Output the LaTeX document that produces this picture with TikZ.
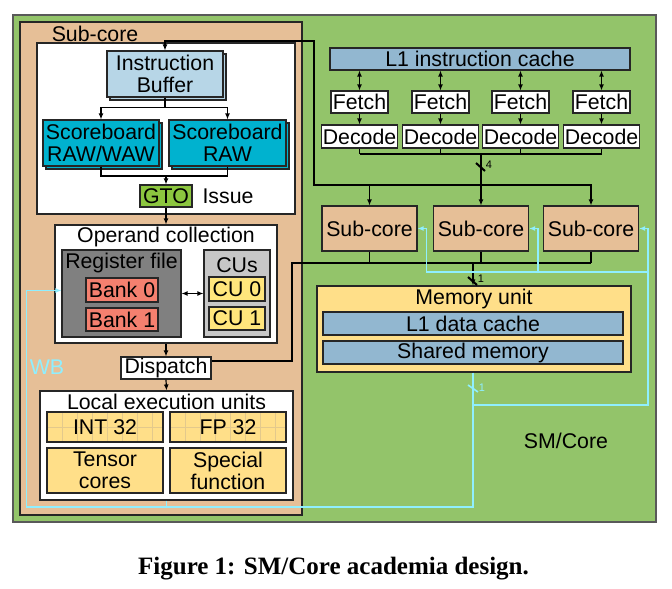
\documentclass[tikz,border=0pt]{standalone}
\usepackage{fontspec}
\setmainfont{Liberation Sans}
\newfontfamily\capfont{Liberation Serif}
\usetikzlibrary{arrows.meta,shadows}
\definecolor{smgreen}{HTML}{93C46A}
\definecolor{subtan}{HTML}{E6BF97}
\definecolor{ibblue}{HTML}{B7D6E7}
\definecolor{sbcyan}{HTML}{00B2CF}
\definecolor{gtogreen}{HTML}{8CC63F}
\definecolor{bankred}{HTML}{F4806F}
\definecolor{cuyellow}{HTML}{FFE67C}
\definecolor{cacheblue}{HTML}{92B7D0}
\definecolor{exyellow}{HTML}{FFDF89}
\definecolor{gridc}{HTML}{E3C98C}
\definecolor{wbcyan}{HTML}{8FEFFF}

\begin{document}
\begin{tikzpicture}[x=1pt,y=-1pt,font=\fontsize{21.3}{22}\selectfont,
    box/.style={draw=black!85,line width=1.1pt,inner sep=0pt,align=center},
    stack/.style={copy shadow={shadow xshift=3pt,shadow yshift=-3pt}},
    grid/.style={path picture={
      \foreach \k in {1,...,7}
        \draw[gridc,line width=0.6pt] ([xshift=\k*15pt]path picture bounding box.north west) -- ([xshift=\k*15pt]path picture bounding box.south west);
      \draw[gridc,line width=0.6pt] (path picture bounding box.west) -- (path picture bounding box.east);}},
    arr/.style={-{Latex[length=6pt,width=5pt]}},
    arr2/.style={{Latex[length=6pt,width=5pt]}-{Latex[length=6pt,width=5pt]}},
    link/.style={line width=1.2pt},
    wb/.style={draw=wbcyan,line width=1.4pt},
    tick/.style={line width=2pt},
    num/.style={font=\fontsize{11}{11}\selectfont,inner sep=0pt}]
  \useasboundingbox (0,0) rectangle (672,589);

  \node[box,fill=smgreen,draw=black!65,line width=1.4pt,minimum width=643pt,minimum height=507pt] (sm) at (334.5,268.5) {};
  \node[box,fill=subtan,minimum width=282pt,minimum height=493pt] (sub) at (161,268.5) {};
  \node (sublbl) at (95,34) {Sub-core};

  \node[box,fill=white,minimum width=258pt,minimum height=171pt] (iss) at (166,128.5) {};
  \node[box,stack,fill=ibblue,minimum width=116pt,minimum height=46pt] (ib) at (165,74) {Instruction\\Buffer};
  \node[box,stack,fill=sbcyan,minimum width=116pt,minimum height=46pt] (sba) at (101,143) {Scoreboard\\RAW/WAW};
  \node[box,stack,fill=sbcyan,minimum width=117pt,minimum height=46pt] (sbb) at (227.5,143) {Scoreboard\\RAW};
  \node[box,fill=gtogreen,minimum width=52pt,minimum height=22pt] (gto) at (166,196) {GTO};
  \node (isslbl) at (228,196) {Issue};

  \node[box,fill=white,minimum width=222pt,minimum height=118pt] (opc) at (166,284) {};
  \node (opclbl) at (166,237) {Operand collection};
  \node[box,fill=black!50,minimum width=119pt,minimum height=87pt] (rf) at (121.5,293.5) {};
  \node (rflbl) at (121.5,263) {Register file};
  \node[box,fill=bankred,minimum width=72pt,minimum height=24pt] (bank0) at (122,290) {Bank 0};
  \node[box,fill=bankred,minimum width=72pt,minimum height=23pt] (bank1) at (122,319.5) {Bank 1};
  \node[box,fill=black!22,minimum width=66pt,minimum height=87pt] (cus) at (237,293.5) {};
  \node (cuslbl) at (237,265) {CUs};
  \node[box,fill=cuyellow,minimum width=56pt,minimum height=24pt] (cu0) at (237,289) {CU 0};
  \node[box,fill=cuyellow,minimum width=56pt,minimum height=23pt] (cu1) at (237,318.5) {CU 1};

  \node[box,fill=white,minimum width=90pt,minimum height=22pt] (dsp) at (166,368) {Dispatch};

  \node[box,fill=white,minimum width=253pt,minimum height=109pt] (leu) at (166.5,445.5) {};
  \node (leulbl) at (166.5,402) {Local execution units};
  \node[box,grid,fill=exyellow,minimum width=116pt,minimum height=30pt] (int) at (105,427) {INT 32};
  \node[box,grid,fill=exyellow,minimum width=116pt,minimum height=30pt] (fp) at (228,427) {FP 32};
  \node[box,fill=exyellow,minimum width=116pt,minimum height=45pt] (tc) at (105,470.5) {Tensor\\cores};
  \node[box,fill=exyellow,minimum width=116pt,minimum height=45pt] (sf) at (228,470.5) {Special\\function};

  \node[box,fill=cacheblue,minimum width=300pt,minimum height=22pt] (l1i) at (480,59) {L1 instruction cache};
  \foreach \i/\x in {1/359.5,2/440.5,3/520.5,4/601.5} {
    \node[box,fill=white,minimum width=57pt,minimum height=22pt] (f\i) at (\x,102) {Fetch};
    \node[box,fill=white,minimum width=76pt,minimum height=23pt] (d\i) at (\x,136.5) {Decode};
  }
  \foreach \i/\x in {1/369.5,2/481,3/591}
    \node[box,fill=subtan,minimum width=95pt,minimum height=45pt] (sc\i) at (\x,228.5) {Sub-core};

  \node[box,fill=exyellow,minimum width=314pt,minimum height=86pt] (mem) at (474,329) {};
  \node (memlbl) at (474,299) {Memory unit};
  \node[box,fill=cacheblue,minimum width=300pt,minimum height=23pt] (l1d) at (473,323.5) {L1 data cache};
  \node[box,fill=cacheblue,minimum width=300pt,minimum height=23pt] (shm) at (473,352.5) {Shared memory};
  \node (smlbl) at (566,441) {SM/Core};

  % instruction path
  \coordinate (dk) at (481,154);
  \coordinate (dj) at (481,185);
  \coordinate (bend) at (314,185);
  \coordinate (ibt) at (165,41);
  \foreach \i in {1,...,4} {
    \draw[link,arr2] (l1i.south -| f\i) -- (f\i.north);
    \draw[link,arr] (f\i.south) -- (d\i.north);
    \draw[link] (d\i.south) -- (d\i.south |- dk);
  }
  \draw[link] (d1.south |- dk) -- (d4.south |- dk);
  \draw[link] (dk) -- (dj);
  \draw[tick] (476,163) -- (485,171);
  \node[num] (n4) at (489,165) {4};
  \draw[link,arr] (dj) -| (sc1.north);
  \draw[link,arr] (dj) -- (sc2.north);
  \draw[link,arr] (dj) -| (sc3.north);
  \draw[link,arr] (dj) -- (bend) |- (ibt) -- (ib.north);

  \coordinate (sj) at (166,176);
  \draw[link,arr] (ib.south) -- ++(0,10) -| (sba.north);
  \draw[link,arr] (ib.south) -- ++(0,10) -| (sbb.north);
  \draw[link] (sba.south) |- (sj) -| (sbb.south);
  \draw[link,arr] (sj) -- (gto.north);
  \draw[link,arr] (gto.south) -- (opc.north);
  \draw[link,arr2] (rf.east) -- (cus.west);
  \draw[link,arr] (opc.south) -- (dsp.north);
  \draw[link,arr] (dsp.south) -- (leu.north);

  % memory path
  \coordinate (mj) at (473,263);
  \foreach \i in {1,2,3}
    \draw[link] (sc\i.south) -- (sc\i.south |- mj);
  \draw[link] ([yshift=7pt]dsp.east) -| (292,263) -- (sc3.south |- mj);
  \draw[link,arr] (mj) -- (mj |- mem.north);
  \draw[tick] (468,277) -- (477,285);
  \node[num] (n1) at (481,279) {1};

  % write back
  \coordinate (wj) at (473,507);
  \coordinate (wr) at (473,405);
  \coordinate (wt) at (648,272);
  \draw[wb,arr] (wj |- mem.south) -- (wj) -| ([xshift=-35pt,yshift=3pt]rf.west) -- ([yshift=3pt]rf.west);
  \draw[wb] (leu.south) -- (leu.south |- wj);
  \draw[wb,arr] (wr) -| ([xshift=9pt]sc3.east) -- (sc3.east);
  \draw[wb,arr] (wt) -| ([xshift=9pt]sc2.east) -- (sc2.east);
  \draw[wb,arr] ([xshift=9pt]sc2.east |- wt) -| ([xshift=9pt]sc1.east) -- (sc1.east);
  \draw[wb,line width=1.6pt] (468,385) -- (478,392);
  \node[num,text=wbcyan] (n1w) at (482,388) {1};
  \node[text=wbcyan] (wblbl) at (47,367) {WB};

  \node[font=\capfont\bfseries\fontsize{25}{27}\selectfont] (cap) at (333.5,569) {Figure 1: SM/Core academia design.};
\end{tikzpicture}
\end{document}
